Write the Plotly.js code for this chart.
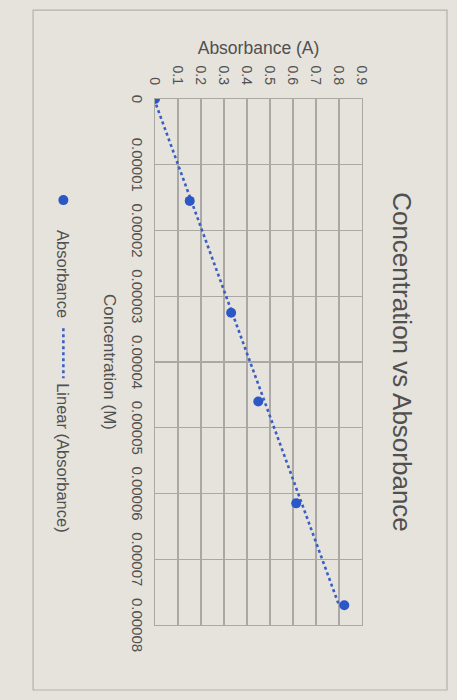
<!DOCTYPE html>
<html>
<head>
<meta charset="utf-8">
<script src="https://cdn.plot.ly/plotly-3.0.1.min.js"></script>
<style>
  html, body { margin: 0; padding: 0; width: 457px; height: 700px; overflow: hidden; background: #e6e3dc; }
  #wrap { position: absolute; left: 457px; top: 0; width: 700px; height: 457px;
          transform-origin: 0 0; transform: rotate(90deg); }
  #chart { width: 700px; height: 457px; }
</style>
</head>
<body>
<div id="wrap"><div id="chart"></div></div>
<script>
// Data
const concentration = [0, 0.0000155, 0.0000325, 0.000046, 0.0000615, 0.000077];
const absorbance    = [0, 0.151, 0.331, 0.449, 0.614, 0.823];
const trendConcentration = [0, 0.000077];
const trendAbsorbance    = [-0.004, 0.800];

const xTickVals = [0, 0.00001, 0.00002, 0.00003, 0.00004, 0.00005, 0.00006, 0.00007, 0.00008];
const xTickText = ['0', '0.00001', '0.00002', '0.00003', '0.00004', '0.00005', '0.00006', '0.00007', '0.00008'];
const yTickVals = [0, 0.1, 0.2, 0.3, 0.4, 0.5, 0.6, 0.7, 0.8, 0.9];
const yTickText = ['0', '0.1', '0.2', '0.3', '0.4', '0.5', '0.6', '0.7', '0.8', '0.9'];

const textColor = '#505050';
const gridColor = '#a9a8a4';
const fontFam = 'Liberation Sans, Arial, Helvetica, sans-serif';

const traces = [
  {
    x: trendConcentration, y: trendAbsorbance,
    type: 'scatter', mode: 'lines', name: 'Linear (Absorbance)',
    line: { color: '#3a5fc4', width: 2.6, dash: 'dot' }
  },
  {
    x: concentration, y: absorbance,
    type: 'scatter', mode: 'markers', name: 'Absorbance',
    marker: { color: '#2b58c6', size: 10 }
  }
];

const layout = {
  width: 700, height: 457,
  margin: { l: 99, r: 75, t: 95, b: 155 },
  paper_bgcolor: '#e6e3dc',
  plot_bgcolor: '#e6e3dc',
  font: { family: fontFam, color: textColor },
  title: {
    text: 'Concentration vs Absorbance',
    font: { size: 26, color: textColor, family: fontFam },
    x: 0.5, xref: 'paper', xanchor: 'center',
    y: 1 - 55 / 457, yref: 'container', yanchor: 'middle'
  },
  showlegend: true,
  legend: {
    orientation: 'h', x: 0.485, xanchor: 'center', y: -0.444, yanchor: 'middle',
    font: { size: 16.5, color: textColor, family: fontFam },
    bgcolor: 'rgba(0,0,0,0)', traceorder: 'reversed', itemwidth: 50
  },
  xaxis: {
    range: [0, 0.00008], tickvals: xTickVals, ticktext: xTickText,
    showgrid: true, gridcolor: gridColor, gridwidth: 1.2, zeroline: false,
    showline: true, linecolor: gridColor, linewidth: 1.2, mirror: true,
    ticks: '', ticklabelstandoff: 4,
    tickfont: { size: 15, color: textColor, family: fontFam },
    title: { text: 'Concentration (M)', font: { size: 17, color: textColor, family: fontFam }, standoff: 14 }
  },
  yaxis: {
    range: [0, 0.9], tickvals: yTickVals, ticktext: yTickText,
    showgrid: true, gridcolor: gridColor, gridwidth: 1.2, zeroline: false,
    showline: true, linecolor: gridColor, linewidth: 1.2, mirror: true,
    ticks: '', ticklabelstandoff: 10,
    tickfont: { size: 14, color: textColor, family: fontFam },
    title: { text: 'Absorbance (A)', font: { size: 17.5, color: textColor, family: fontFam }, standoff: 6 }
  },
  shapes: [
    { type: 'rect', xref: 'paper', yref: 'paper', layer: 'below',
      x0: -0.169, x1: 1.1236, y0: -0.589, y1: 1.4106,
      line: { color: '#b3b1ab', width: 1.2 } }
  ]
};

Plotly.newPlot('chart', traces, layout, { staticPlot: true, displayModeBar: false });
</script>
</body>
</html>
